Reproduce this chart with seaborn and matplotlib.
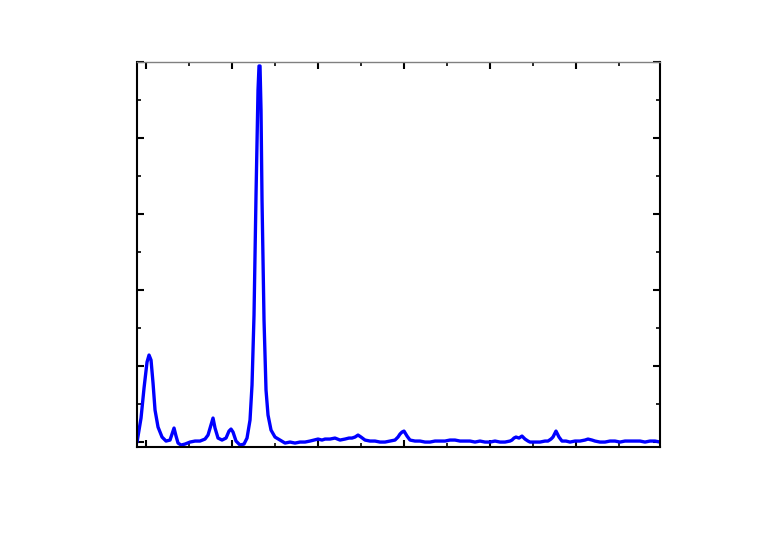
import numpy as np
import pandas as pd
import matplotlib
matplotlib.use("Agg")
import matplotlib.pyplot as plt
import seaborn as sns
from matplotlib.ticker import MultipleLocator, NullFormatter

# datos (x en unidades de eje, y en intensidad relativa)
x_px = [137, 141, 144, 147, 149, 151, 153, 155, 158, 162, 166, 170, 172, 174, 176, 178,
        181, 185, 190, 195, 200, 205, 208, 211, 213, 215, 218, 222, 226, 229, 231, 233,
        236, 240, 244, 247, 250, 252, 254, 256, 258, 259, 260, 261, 262, 264, 266, 268,
        271, 275, 280, 285, 290, 295, 300, 305, 310, 314, 318, 322, 325, 330, 335, 340,
        345, 349, 352, 355, 358, 361, 365, 370, 375, 380, 385, 390, 395, 398, 400, 402,
        404, 407, 410, 415, 420, 425, 430, 435, 440, 445, 450, 455, 460, 465, 470, 475,
        480, 485, 490, 495, 500, 505, 510, 512, 514, 516, 519, 522, 525, 528, 530, 535,
        540, 545, 548, 551, 553, 556, 559, 562, 566, 570, 575, 580, 585, 588, 592, 595,
        600, 605, 610, 615, 620, 625, 630, 635, 640, 645, 650, 655, 660]
y_px = [442, 418, 388, 362, 355, 360, 383, 410, 427, 437, 441, 440, 434, 428, 436, 443,
        445, 444, 442, 441, 441, 439, 435, 425, 418, 428, 438, 440, 438, 431, 429, 432,
        441, 445, 444, 438, 420, 385, 315, 195, 90, 66, 66, 110, 200, 320, 390, 415,
        430, 437, 440, 443, 442, 443, 442, 442, 441, 440, 439, 440, 439, 439, 438, 440,
        439, 438, 438, 437, 435, 437, 440, 441, 441, 442, 442, 441, 440, 437, 434, 432,
        431, 436, 440, 441, 441, 442, 442, 441, 441, 441, 440, 440, 441, 441, 441, 442,
        441, 442, 442, 441, 442, 442, 441, 440, 438, 437, 438, 436, 439, 441, 442, 442,
        442, 441, 441, 439, 437, 431, 437, 441, 441, 442, 441, 441, 440, 439, 440, 441,
        442, 442, 441, 441, 442, 441, 441, 441, 441, 442, 441, 441, 442]

x = [(p - 146) / 86 * 100 for p in x_px]
y = [(442 - p) / 76 * 0.2 for p in y_px]

df = pd.DataFrame({"x": x, "y": y})

sns.set_style("white")
fig = plt.figure(figsize=(7.68, 5.37), dpi=100)
ax = fig.add_axes([137 / 768, 90 / 537, 523 / 768, 385 / 537])

sns.lineplot(data=df, x="x", y="y", color=(0, 0, 1), linewidth=2.4,
             estimator=None, sort=False, ax=ax)
for ln in ax.get_lines():
    ln.set_solid_joinstyle("round")

ax.set_xlim(-10.5, 597.7)
ax.set_ylim(-0.013, 1.0)
ax.xaxis.set_major_locator(MultipleLocator(100))
ax.xaxis.set_minor_locator(MultipleLocator(50))
ax.yaxis.set_major_locator(MultipleLocator(0.2))
ax.yaxis.set_minor_locator(MultipleLocator(0.1))
ax.xaxis.set_major_formatter(NullFormatter())
ax.yaxis.set_major_formatter(NullFormatter())
ax.set_xlabel("")
ax.set_ylabel("")

ax.tick_params(which="both", direction="in", top=True, right=True, bottom=True, left=True,
               color="black")
ax.tick_params(which="major", length=5, width=1.5)
ax.tick_params(which="minor", length=3, width=1.2)

for s in ["left", "right", "bottom"]:
    ax.spines[s].set_color("black")
    ax.spines[s].set_linewidth(1.5)
ax.spines["top"].set_color("gray")
ax.spines["top"].set_linewidth(1.0)

plt.savefig("out.png", dpi=100)
